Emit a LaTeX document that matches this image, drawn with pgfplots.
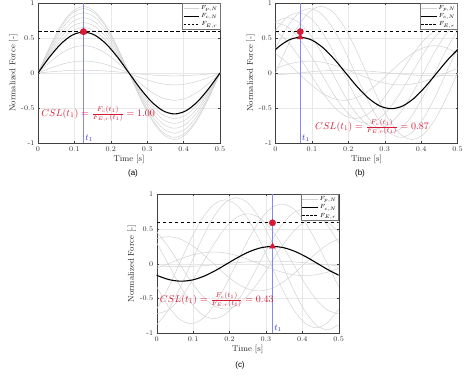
\documentclass[border=0pt]{standalone}
\usepackage{pgfplots}
\usepackage{pgfplotstable}
\pgfplotsset{compat=1.18}
\usepackage{fontspec}
\newfontfamily\arialfont{Liberation Sans}
\definecolor{cslred}{RGB}{215,25,55}
\definecolor{tblue}{RGB}{50,50,215}
\definecolor{lblue}{RGB}{135,135,240}
\definecolor{pgray}{RGB}{210,210,210}

% panel (a): columns g1..g9 = gray pedestrian curves, blk = F_c,N
\pgfplotstableread{
t g1 g2 g3 g4 g5 g6 g7 g8 g9 blk
0 0 0 0 0 0 0 0 0 0 0
0.03125 .3636 .3521 .3291 .3023 .2755 .2488 .1493 .0651 .0153 .2239
0.0625 .6717 .6505 .6081 .5586 .5091 .4596 .2758 .1202 .0283 .4137
0.09375 .8777 .8500 .7946 .7299 .6652 .6005 .3603 .1571 .0370 .5405
0.125 .95 .92 .86 .79 .72 .65 .39 .17 .04 .585
0.15625 .8777 .8500 .7946 .7299 .6652 .6005 .3603 .1571 .0370 .5405
0.1875 .6717 .6505 .6081 .5586 .5091 .4596 .2758 .1202 .0283 .4137
0.21875 .3636 .3521 .3291 .3023 .2755 .2488 .1493 .0651 .0153 .2239
0.25 0 0 0 0 0 0 0 0 0 0
0.28125 -.3636 -.3521 -.3291 -.3023 -.2755 -.2488 -.1493 -.0651 -.0153 -.2239
0.3125 -.6717 -.6505 -.6081 -.5586 -.5091 -.4596 -.2758 -.1202 -.0283 -.4137
0.34375 -.8777 -.8500 -.7946 -.7299 -.6652 -.6005 -.3603 -.1571 -.0370 -.5405
0.375 -.95 -.92 -.86 -.79 -.72 -.65 -.39 -.17 -.04 -.585
0.40625 -.8777 -.8500 -.7946 -.7299 -.6652 -.6005 -.3603 -.1571 -.0370 -.5405
0.4375 -.6717 -.6505 -.6081 -.5586 -.5091 -.4596 -.2758 -.1202 -.0283 -.4137
0.46875 -.3636 -.3521 -.3291 -.3023 -.2755 -.2488 -.1493 -.0651 -.0153 -.2239
0.5 0 0 0 0 0 0 0 0 0 0
}\tabA

% panel (b)
\pgfplotstableread{
t g1 g2 g3 g4 g5 g6 g7 g8 g9
0 0 .3521 .6081 .7299 .72 .6005 .2758 .0651 -.0283
0.03125 .3636 .6505 .7946 .79 .6652 .4596 .1493 .1202 -.0153
0.0625 .6717 .8500 .86 .7299 .5091 .2488 0 .1571 0
0.09375 .8777 .92 .7946 .5586 .2755 0 -.1493 .17 .0153
0.125 .95 .8500 .6081 .3023 0 -.2488 -.2758 .1571 .0283
0.15625 .8777 .6505 .3291 0 -.2755 -.4596 -.3603 .1202 .0370
0.1875 .6717 .3521 0 -.3023 -.5091 -.6005 -.39 .0651 .04
0.21875 .3636 0 -.3291 -.5586 -.6652 -.65 -.3603 0 .0370
0.25 0 -.3521 -.6081 -.7299 -.72 -.6005 -.2758 -.0651 .0283
0.28125 -.3636 -.6505 -.7946 -.79 -.6652 -.4596 -.1493 -.1202 .0153
0.3125 -.6717 -.8500 -.86 -.7299 -.5091 -.2488 0 -.1571 0
0.34375 -.8777 -.92 -.7946 -.5586 -.2755 0 .1493 -.17 -.0153
0.375 -.95 -.8500 -.6081 -.3023 0 .2488 .2758 -.1571 -.0283
0.40625 -.8777 -.6505 -.3291 0 .2755 .4596 .3603 -.1202 -.0370
0.4375 -.6717 -.3521 0 .3023 .5091 .6005 .39 -.0651 -.04
0.46875 -.3636 0 .3291 .5586 .6652 .65 .3603 0 -.0370
0.5 0 .3521 .6081 .7299 .72 .6005 .2758 .0651 -.0283
}\tabB

% panel (c)
\pgfplotstableread{
t g1 g2 g3 g4 g5 g6 g7 g8 g9
0 -.8777 -.6505 -.3291 .3023 -.72 .4596 .3603 -.0651 -.0283
0.03125 -.6717 -.3521 -.6081 0 -.6652 .2488 .39 0 -.0370
0.0625 -.3636 0 -.7946 -.3023 -.5091 0 .3603 .0651 -.04
0.09375 0 .3521 -.86 -.5586 -.2755 -.2488 .2758 .1202 -.0370
0.125 .3636 .6505 -.7946 -.7299 0 -.4596 .1493 .1571 -.0283
0.15625 .6717 .8500 -.6081 -.79 .2755 -.6005 0 .17 -.0153
0.1875 .8777 .92 -.3291 -.7299 .5091 -.65 -.1493 .1571 0
0.21875 .95 .8500 0 -.5586 .6652 -.6005 -.2758 .1202 .0153
0.25 .8777 .6505 .3291 -.3023 .72 -.4596 -.3603 .0651 .0283
0.28125 .6717 .3521 .6081 0 .6652 -.2488 -.39 0 .0370
0.3125 .3636 0 .7946 .3023 .5091 0 -.3603 -.0651 .04
0.34375 0 -.3521 .86 .5586 .2755 .2488 -.2758 -.1202 .0370
0.375 -.3636 -.6505 .7946 .7299 0 .4596 -.1493 -.1571 .0283
0.40625 -.6717 -.8500 .6081 .79 -.2755 .6005 0 -.17 .0153
0.4375 -.8777 -.92 .3291 .7299 -.5091 .65 .1493 -.1571 0
0.46875 -.95 -.8500 0 .5586 -.6652 .6005 .2758 -.1202 -.0153
0.5 -.8777 -.6505 -.3291 .3023 -.72 .4596 .3603 -.0651 -.0283
}\tabC

\pgfplotsset{
 panel/.style={
  scale only axis, width=182bp, height=140bp,
  xmin=0, xmax=0.5, ymin=-1, ymax=1,
  xtick={0,0.1,0.2,0.3,0.4,0.5}, ytick={-1,-0.5,0,0.5,1},
  xticklabels={0,0.1,0.2,0.3,0.4,0.5},
  yticklabels={-1,-0.5,0,0.5,1},
  grid=major, major grid style={black!9, line width=0.4pt},
  axis line style={black!75, line width=0.4pt},
  tick style={black!75, line width=0.4pt}, major tick length=2bp,
  tick label style={font=\fontsize{7.2}{8}\selectfont, text=black!80},
  label style={font=\fontsize{8.5}{9}\selectfont, text=black!85},
  xlabel={Time [s]}, ylabel={Normalized Force [-]},
  xlabel style={yshift=3bp}, ylabel style={yshift=-3bp},
  legend style={at={(1,1)}, anchor=north east, font=\fontsize{6.5}{7}\selectfont,
    draw=black!55, line width=0.3pt, inner sep=0.8pt, row sep=0.3pt,
    nodes={inner sep=1.2pt}},
  legend image code/.code={\draw[##1] (0cm,0cm) -- (0.55cm,0cm);},
 },
 gcurve/.style={pgray, line width=0.5pt, smooth},
}

\begin{document}
\begin{tikzpicture}[x=1bp,y=1bp]
\useasboundingbox (0,0) rectangle (474,381);

% ---------------- (a)
\begin{axis}[panel, at={(38bp,238bp)}, anchor=south west]
\addlegendimage{pgray, line width=0.6pt}\addlegendentry{$F_{p,N}$}
\addlegendimage{black, line width=1.1pt}\addlegendentry{$F_{c,N}$}
\addlegendimage{black, line width=1.1pt, dash pattern=on 2.5bp off 1.5bp}\addlegendentry{$F_{E,r}$}
\foreach \c in {g1,g2,g3,g4,g5,g6,g7,g8,g9}{
 \addplot[gcurve, forget plot] table[x=t,y=\c]{\tabA};
}
\addplot[black, line width=1.1pt, smooth, forget plot] table[x=t,y=blk]{\tabA};
\addplot[black, line width=1.1pt, dash pattern=on 3.5bp off 2.5bp, forget plot] coordinates {(0,0.59) (0.5,0.59)};
\addplot[lblue, line width=0.5pt, forget plot] coordinates {(0.125,-1) (0.125,1)};
\addplot[only marks, mark=triangle*, mark size=3.4bp, cslred, forget plot] coordinates {(0.125,0.585)};
\addplot[only marks, mark=*, mark size=3.2bp, cslred, forget plot] coordinates {(0.125,0.59)};
\node[text=tblue, font=\fontsize{9}{10}\selectfont, anchor=south west, inner sep=1pt] at (axis cs:0.127,-0.99) {$t_1$};
\node[text=cslred, font=\fontsize{10}{12}\selectfont] at (axis cs:0.165,-0.586) {$CSL(t_1) = \frac{F_c(t_1)}{F_{E,r}(t_1)} = 1.00$};
\end{axis}
\node[font=\arialfont\fontsize{8}{9}\selectfont] at (133,208) {(a)};

% ---------------- (b)
\begin{axis}[panel, at={(275.5bp,238bp)}, anchor=south west]
\addlegendimage{pgray, line width=0.6pt}\addlegendentry{$F_{p,N}$}
\addlegendimage{black, line width=1.1pt}\addlegendentry{$F_{c,N}$}
\addlegendimage{black, line width=1.1pt, dash pattern=on 2.5bp off 1.5bp}\addlegendentry{$F_{E,r}$}
\foreach \c in {g1,g2,g3,g4,g5,g6,g7,g8,g9}{
 \addplot[gcurve, forget plot] table[x=t,y=\c]{\tabB};
}
\addplot[black, line width=1.1pt, smooth, forget plot] coordinates {
(-0.0258,0.1952) (0.0055,0.3606) (0.0368,0.4712) (0.068,0.51) (0.0993,0.4712)
(0.1305,0.3606) (0.1618,0.1952) (0.193,0) (0.2243,-0.1952) (0.2555,-0.3606)
(0.2868,-0.4712) (0.318,-0.51) (0.3493,-0.4712) (0.3805,-0.3606) (0.4118,-0.1952)
(0.443,0) (0.4743,0.1952) (0.5055,0.3606)};
\addplot[black, line width=1.1pt, dash pattern=on 3.5bp off 2.5bp, forget plot] coordinates {(0,0.59) (0.5,0.59)};
\addplot[lblue, line width=0.5pt, forget plot] coordinates {(0.068,-1) (0.068,1)};
\addplot[only marks, mark=triangle*, mark size=3.4bp, cslred, forget plot] coordinates {(0.068,0.51)};
\addplot[only marks, mark=*, mark size=3.2bp, cslred, forget plot] coordinates {(0.068,0.59)};
\node[text=tblue, font=\fontsize{9}{10}\selectfont, anchor=south west, inner sep=1pt] at (axis cs:0.07,-0.99) {$t_1$};
\node[text=cslred, font=\fontsize{10}{12}\selectfont] at (axis cs:0.265,-0.77) {$CSL(t_1) = \frac{F_c(t_1)}{F_{E,r}(t_1)} = 0.87$};
\end{axis}
\node[font=\arialfont\fontsize{8}{9}\selectfont] at (360,208) {(b)};

% ---------------- (c)
\begin{axis}[panel, at={(156.7bp,47.7bp)}, anchor=south west, height=139bp]
\addlegendimage{pgray, line width=0.6pt}\addlegendentry{$F_{p,N}$}
\addlegendimage{black, line width=1.1pt}\addlegendentry{$F_{c,N}$}
\addlegendimage{black, line width=1.1pt, dash pattern=on 2.5bp off 1.5bp}\addlegendentry{$F_{E,r}$}
\foreach \c in {g1,g2,g3,g4,g5,g6,g7,g8,g9}{
 \addplot[gcurve, forget plot] table[x=t,y=\c]{\tabC};
}
\addplot[black, line width=1.1pt, smooth, forget plot] coordinates {
(-0.0258,-0.0957) (0.0055,-0.1768) (0.0368,-0.2310) (0.068,-0.25) (0.0993,-0.2310)
(0.1305,-0.1768) (0.1618,-0.0957) (0.193,0) (0.2243,0.0957) (0.2555,0.1768)
(0.2868,0.2310) (0.318,0.25) (0.3493,0.2310) (0.3805,0.1768) (0.4118,0.0957)
(0.443,0) (0.4743,-0.0957) (0.5055,-0.1768)};
\addplot[black, line width=1.1pt, dash pattern=on 3.5bp off 2.5bp, forget plot] coordinates {(0,0.59) (0.5,0.59)};
\addplot[lblue, line width=0.5pt, forget plot] coordinates {(0.318,-1) (0.318,1)};
\addplot[only marks, mark=triangle*, mark size=3.4bp, cslred, forget plot] coordinates {(0.318,0.25)};
\addplot[only marks, mark=*, mark size=3.2bp, cslred, forget plot] coordinates {(0.318,0.59)};
\node[text=tblue, font=\fontsize{9}{10}\selectfont, anchor=south west, inner sep=1pt] at (axis cs:0.32,-0.99) {$t_1$};
\node[text=cslred, font=\fontsize{10}{12}\selectfont] at (axis cs:0.165,-0.52) {$CSL(t_1) = \frac{F_c(t_1)}{F_{E,r}(t_1)} = 0.43$};
\end{axis}
\node[font=\arialfont\fontsize{8}{9}\selectfont] at (240,16) {(c)};
\end{tikzpicture}
\end{document}
